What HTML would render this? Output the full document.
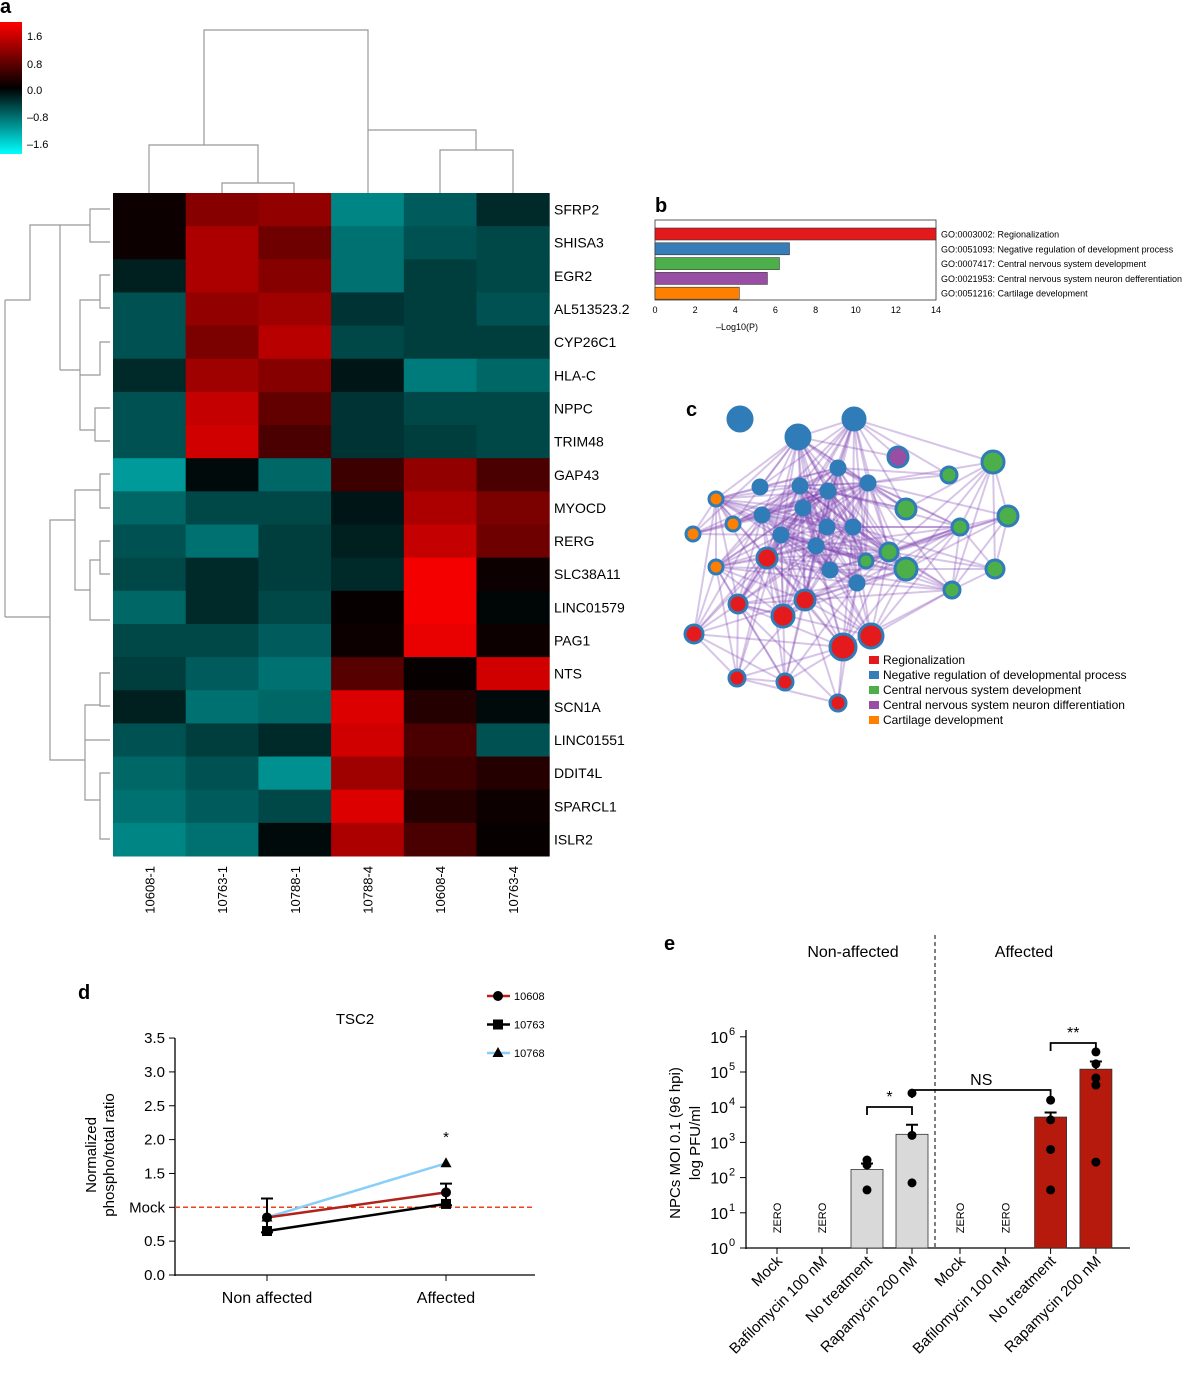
<!DOCTYPE html>
<html><head><meta charset="utf-8">
<style>
html,body{margin:0;padding:0;background:#fff;}
svg{display:block;font-family:"Liberation Sans",sans-serif;}
</style></head>
<body>
<svg id="fig" width="1200" height="1375" viewBox="0 0 1200 1375" xmlns="http://www.w3.org/2000/svg">
<defs>
<linearGradient id="cbar" x1="0" y1="0" x2="0" y2="1">
<stop offset="0" stop-color="#ff0000"/><stop offset="0.5" stop-color="#000"/><stop offset="1" stop-color="#00ffff"/>
</linearGradient>
</defs>
<g id="pa">
<text x="0" y="13" font-size="20" font-weight="bold">a</text>
<rect x="0" y="22" width="22" height="132" fill="url(#cbar)"/>
<g font-size="11">
<text x="27" y="40">1.6</text><text x="27" y="68">0.8</text><text x="27" y="94">0.0</text><text x="27" y="121">–0.8</text><text x="27" y="148">–1.6</text>
</g>
<g id="heat"></g>
<g id="coldendro" stroke="#999" fill="none" stroke-width="1.2">
<path d="M204 145V30H368V130"/><path d="M149 193V145H258V183"/><path d="M222 193V183H294V193"/><path d="M368 193V130H476V150"/><path d="M440 193V150H513V193"/>
</g>
<g id="rowdendro" stroke="#999" fill="none" stroke-width="1.2">
<path d="M5 300V617"/><path d="M5 300H30V225H60V370"/><path d="M60 225H90V209H110M90 209V242H110"/>
<path d="M60 370H80V300H100V275H110M100 300V308H110M80 370V430H95V408H110M95 430V441H110M80 370V375H100V342H110M100 375V375"/>
<path d="M5 617H50V520H75V490H100V474H110M100 490V508H110M75 520V590H90V560H100V541H110M100 560V574H110M90 590V620H110M50 617V760H85V705H100V673H110M100 705V706H110M85 760V800H100V773H110M100 800V839H110M85 760V740H110"/>
</g>
<g id="rowlabels" font-size="14"></g>
<g id="collabels" font-size="13"></g>
</g>

<g id="pb">
<text x="655" y="212" font-size="20" font-weight="bold">b</text>
<rect x="655" y="220" width="281" height="80" fill="none" stroke="#333" stroke-width="0.8"/>
<g id="bbars"></g>
<text x="737" y="330" font-size="9" text-anchor="middle">–Log10(P)</text>
</g>

<g id="pc">
<text x="686" y="416" font-size="20" font-weight="bold">c</text>
<g id="edges" stroke="#7b3fb0" stroke-width="2" stroke-opacity="0.3"></g>
<g id="nodes"></g>
<g id="clegend" font-size="12"></g>
</g>

<g id="pd">
<text x="78" y="999" font-size="20" font-weight="bold">d</text>
<text x="355" y="1024" font-size="15" text-anchor="middle">TSC2</text>
<g transform="translate(96,1155) rotate(-90)" font-size="15" text-anchor="middle"><text x="0" y="0">Normalized</text><text x="0" y="18">phospho/total ratio</text></g>
<g id="daxes"></g><g id="dseries"></g>
</g>

<g id="pe">
<text x="664" y="950" font-size="20" font-weight="bold">e</text>
<text x="853" y="957" font-size="16" text-anchor="middle">Non-affected</text>
<text x="1024" y="957" font-size="16" text-anchor="middle">Affected</text>
<g transform="translate(680,1143) rotate(-90)" font-size="15" text-anchor="middle"><text x="0" y="0">NPCs MOI 0.1 (96 hpi)</text><text x="0" y="20">log PFU/ml</text></g>
<g id="eaxes"></g><g id="eseries"></g>
</g>
</svg>
<script>
var NS="http://www.w3.org/2000/svg";
function mk(p,t,a,txt){var e=document.createElementNS(NS,t);for(var k in a)e.setAttribute(k,a[k]);if(txt!==undefined)e.textContent=txt;p.appendChild(e);return e;}

/* ---------- panel a data ---------- */
var heatGenes=["SFRP2","SHISA3","EGR2","AL513523.2","CYP26C1","HLA-C","NPPC","TRIM48","GAP43","MYOCD","RERG","SLC38A11","LINC01579","PAG1","NTS","SCN1A","LINC01551","DDIT4L","SPARCL1","ISLR2"];
var heatSamples=["10608-1","10763-1","10788-1","10788-4","10608-4","10763-4"];
var heatValues=[
[0.1,1.1,1.2,-1.3,-0.9,-0.4],[0.1,1.4,0.9,-1.1,-0.8,-0.7],[-0.3,1.4,1.1,-1.1,-0.6,-0.7],
[-0.8,1.2,1.3,-0.5,-0.6,-0.8],[-0.8,1.0,1.5,-0.7,-0.6,-0.6],[-0.4,1.3,1.1,-0.2,-1.2,-1.0],
[-0.8,1.6,0.8,-0.5,-0.7,-0.7],[-0.8,1.7,0.6,-0.5,-0.6,-0.7],[-1.5,-0.1,-1.0,0.5,1.2,0.6],
[-1.0,-0.7,-0.7,-0.2,1.4,1.0],[-0.8,-1.1,-0.6,-0.3,1.6,0.9],[-0.7,-0.4,-0.6,-0.4,2.0,0.1],
[-1.0,-0.4,-0.7,0.05,2.0,-0.05],[-0.7,-0.7,-0.9,0.1,1.9,0.1],[-0.6,-0.9,-1.1,0.7,0.05,1.7],
[-0.3,-1.1,-1.0,1.8,0.3,-0.1],[-0.8,-0.6,-0.4,1.7,0.6,-0.8],[-1.0,-0.8,-1.4,1.3,0.5,0.3],
[-1.1,-0.9,-0.7,1.8,0.3,0.1],[-1.3,-1.1,-0.1,1.4,0.6,0.05]];
var hx0=113,hy0=193,cw=72.7,rh=33.15;
function heatColor(v){var t=Math.min(1,Math.abs(v)/2);if(v>=0)return "rgb("+Math.round(245*t)+",0,0)";var c=Math.round(205*t);return "rgb(0,"+c+","+c+")";}
var heat=document.getElementById("heat");
heatValues.forEach(function(row,i){row.forEach(function(v,j){
 var r=mk(heat,"rect",{x:hx0+j*cw,y:hy0+i*rh,width:cw+0.5,height:rh+0.5,fill:heatColor(v)});
 
 
});});
var rl=document.getElementById("rowlabels");
heatGenes.forEach(function(g,i){var t=mk(rl,"text",{x:554,y:hy0+i*rh+rh/2+5},g);
 
 });
var cl=document.getElementById("collabels");
heatSamples.forEach(function(s,j){var x=hx0+j*cw+cw/2+5;var t=mk(cl,"text",{x:0,y:0,transform:"translate("+x+",866) rotate(-90)","text-anchor":"end"},s);
 
 });

/* ---------- panel b ---------- */
var goTerms=["GO:0003002: Regionalization","GO:0051093: Negative regulation of development process","GO:0007417: Central nervous system development","GO:0021953: Central nervous system neuron defferentiation","GO:0051216: Cartilage development"];
var goValues=[14,6.7,6.2,5.6,4.2];
var goColors=["#e31a1c","#377eb8","#4daf4a","#984ea3","#ff7f00"];
var bTicks=[0,2,4,6,8,10,12,14];
var bb=document.getElementById("bbars");
function bx(v){return 655+v*(281/14);}
goValues.forEach(function(v,i){var y=228+i*14.8;
 var r=mk(bb,"rect",{x:655,y:y,width:bx(v)-655,height:12,fill:goColors[i],stroke:"#333","stroke-width":0.6});
 
 
 var t=mk(bb,"text",{x:941,y:y+9.5,"font-size":9},goTerms[i]);
 
 });
bTicks.forEach(function(v){var t=mk(bb,"text",{x:bx(v),y:313,"font-size":9,"text-anchor":"middle"},v);
 
 });

/* ---------- panel c ---------- */
var netNodes=[[740,419,10,"b"],[798,437,10,"b"],[854,419,9,"b"],[898,457,8,"p"],[838,468,5,"b"],[868,483,5,"b"],[949,475,6,"g"],[993,462,9,"g"],[716,499,5,"o"],[760,487,5,"b"],[800,486,5,"b"],[828,491,5,"b"],[906,509,8,"g"],[1008,516,8,"g"],[960,527,6,"g"],[733,524,5,"o"],[762,515,5,"b"],[803,508,5,"b"],[827,527,5,"b"],[853,527,5,"b"],[781,535,5,"b"],[693,534,5,"o"],[816,546,5,"b"],[889,552,7,"g"],[866,561,5,"g"],[906,569,9,"g"],[952,590,6,"g"],[995,569,7,"g"],[767,558,8,"r"],[716,567,5,"o"],[830,570,5,"b"],[738,604,7,"r"],[805,600,8,"r"],[783,616,9,"r"],[857,583,5,"b"],[694,634,7,"r"],[871,636,10,"r"],[843,647,11,"r"],[737,678,6,"r"],[785,682,6,"r"],[838,703,6,"r"]];
var nodeCol={b:"#2f7cb8",p:"#984ea3",g:"#4daf4a",o:"#ff7f00",r:"#e41a1c"};
var eg=document.getElementById("edges"),ng=document.getElementById("nodes");
for(var i=0;i<netNodes.length;i++)for(var j=i+1;j<netNodes.length;j++){var a=netNodes[i],b=netNodes[j];var d=Math.hypot(a[0]-b[0],a[1]-b[1]);if(d<150&&((i*7+j*3)%3!==0)){var l=mk(eg,"line",{x1:a[0],y1:a[1],x2:b[0],y2:b[1]});
 
 }}
netNodes.forEach(function(n){var c=mk(ng,"circle",{cx:n[0],cy:n[1],r:n[2]+2,fill:nodeCol[n[3]],stroke:"#2f7cb8","stroke-width":3});
 
 });
var legTerms=["Regionalization","Negative regulation of developmental process","Central nervous system development","Central nervous system neuron differentiation","Cartilage development"];
var cg=document.getElementById("clegend");
legTerms.forEach(function(s,i){var y=660+i*15;mk(cg,"rect",{x:869,y:y-4,width:10,height:8,fill:goColors[i]});
 var t=mk(cg,"text",{x:883,y:y+4},s);
 
 });

/* ---------- panel d ---------- */
var dGroups=["Non affected","Affected"];
var dYTicks=[0,0.5,1,1.5,2,2.5,3,3.5];
var dNames=["10608","10763","10768"];
var d10608=[0.85,1.22];
var d10763=[0.65,1.05];
var d10768=[0.85,1.65];
var dErrHi=[1.13,1.35];
var dErrLo=[0.63,1.03];
var dCols=["#b2221a","#000","#87cefa"];
var dSeries=[d10608,d10763,d10768];
function dy(v){return 1275-v*67.7;}
function dx(i){return 267+i*179;}
var da=document.getElementById("daxes"),ds=document.getElementById("dseries");
mk(da,"line",{x1:175,y1:1038,x2:175,y2:1276,stroke:"#000","stroke-width":1.3});
mk(da,"line",{x1:175,y1:1275,x2:535,y2:1275,stroke:"#000","stroke-width":1.3});
dYTicks.forEach(function(v){mk(da,"line",{x1:169,y1:dy(v),x2:175,y2:dy(v),stroke:"#000"});
 var t=mk(da,"text",{x:165,y:dy(v)+5,"font-size":15,"text-anchor":"end"},v===1?"Mock":v.toFixed(1));
 
 });
dGroups.forEach(function(g,i){mk(da,"line",{x1:dx(i),y1:1275,x2:dx(i),y2:1281,stroke:"#000"});
 var t=mk(da,"text",{x:dx(i),y:1303,"font-size":16,"text-anchor":"middle"},g);
 
 });
var ml=mk(ds,"line",{x1:175,y1:dy(1),x2:535,y2:dy(1),stroke:"#f0401e","stroke-width":1.5,"stroke-dasharray":"5,3"});


dGroups.forEach(function(g,i){var p=mk(ds,"path",{d:"M"+(dx(i)-6)+" "+dy(dErrHi[i])+"H"+(dx(i)+6)+"M"+dx(i)+" "+dy(dErrHi[i])+"V"+dy(dErrLo[i])+"M"+(dx(i)-6)+" "+dy(dErrLo[i])+"H"+(dx(i)+6),stroke:"#000","stroke-width":2,fill:"none"});
 
 });
[2,0,1].forEach(function(k){var s=dSeries[k];
 var l=mk(ds,"line",{x1:dx(0),y1:dy(s[0]),x2:dx(1),y2:dy(s[1]),stroke:dCols[k],"stroke-width":2.5});
 
 
 s.forEach(function(v,i){var m;
  if(k===0)m=mk(ds,"circle",{cx:dx(i),cy:dy(v),r:5,fill:"#000"});
  else if(k===1)m=mk(ds,"rect",{x:dx(i)-5,y:dy(v)-5,width:10,height:10,fill:"#000"});
  else m=mk(ds,"path",{d:"M"+dx(i)+" "+(dy(v)-6)+"L"+(dx(i)+5.5)+" "+(dy(v)+4)+"L"+(dx(i)-5.5)+" "+(dy(v)+4)+"Z",fill:"#000"});
  
  });
});
mk(ds,"text",{x:dx(1),y:1142,"font-size":15,"text-anchor":"middle"},"*");
dNames.forEach(function(n,k){var y=996+k*28.5;mk(ds,"line",{x1:487,y1:y,x2:510,y2:y,stroke:dCols[k],"stroke-width":2.5});
 var m;if(k===0)m=mk(ds,"circle",{cx:498,cy:y,r:5});else if(k===1)m=mk(ds,"rect",{x:493,y:y-5,width:10,height:10});else m=mk(ds,"path",{d:"M498 "+(y-6)+"L503.5 "+(y+4)+"L492.5 "+(y+4)+"Z"});
 var t=mk(ds,"text",{x:514,y:y+4,"font-size":11},n);
 
 });

/* ---------- panel e ---------- */
var eCats=["Mock","Bafilomycin 100 nM","No treatment","Rapamycin 200 nM","Mock","Bafilomycin 100 nM","No treatment","Rapamycin 200 nM"];
var eMeans=[null,null,2.23,3.23,null,null,3.72,5.08];
var eErrTop=[null,null,2.4,3.5,null,null,3.85,5.3];
var ePoints=[[],[],[2.5,2.36,1.65],[4.4,3.2,1.85],[],[],[4.2,3.64,2.8,1.65],[5.57,5.23,4.83,4.63,2.44]];
var eYTicks=[0,1,2,3,4,5,6];
var eFill=["#d9d9d9","#d9d9d9","#d9d9d9","#d9d9d9","#b51a0c","#b51a0c","#b51a0c","#b51a0c"];
function ey(v){return 1248-v*35.2;}
function ex(i){return i<4?777+i*45:960+(i-4)*45.3;}
var ea=document.getElementById("eaxes"),es=document.getElementById("eseries");
mk(ea,"line",{x1:746,y1:1030,x2:746,y2:1249,stroke:"#000","stroke-width":1.3});
mk(ea,"line",{x1:746,y1:1248,x2:1130,y2:1248,stroke:"#000","stroke-width":1.3});
mk(ea,"line",{x1:935,y1:935,x2:935,y2:1250,stroke:"#555","stroke-width":1.5,"stroke-dasharray":"4,3"});
eYTicks.forEach(function(v){mk(ea,"line",{x1:740,y1:ey(v),x2:746,y2:ey(v),stroke:"#000"});
 var t=mk(ea,"text",{x:728,y:ey(v)+6,"font-size":16,"text-anchor":"end"},"10");
 
 
 mk(ea,"text",{x:729,y:ey(v)-2,"font-size":11},v);});
eCats.forEach(function(c,i){var x=ex(i);
 mk(ea,"line",{x1:x,y1:1248,x2:x,y2:1254,stroke:"#000"});
 var t=mk(ea,"text",{transform:"translate("+(x+6)+",1262) rotate(-45)","font-size":15,"text-anchor":"end"},c);
 
 
 if(eMeans[i]===null){var z=mk(es,"text",{transform:"translate("+(x+4)+",1218) rotate(-90)","font-size":11,"text-anchor":"middle"},"ZERO");
  
  return;}
 var r=mk(es,"rect",{x:x-16,y:ey(eMeans[i]),width:32,height:1248-ey(eMeans[i]),fill:eFill[i],stroke:"#333","stroke-width":0.8});
 
 
 var p=mk(es,"path",{d:"M"+x+" "+ey(eMeans[i])+"V"+ey(eErrTop[i])+"M"+(x-6)+" "+ey(eErrTop[i])+"H"+(x+6),stroke:"#000","stroke-width":2,fill:"none"});
 
 
 ePoints[i].forEach(function(v){var d=mk(es,"circle",{cx:x,cy:ey(v),r:4.5,fill:"#000"});
  
  });
});
function bracket(a,b,y,lab){var p=mk(es,"path",{d:"M"+ex(a)+" "+(y+8)+"V"+y+"H"+ex(b)+"V"+(y+8),stroke:"#000","stroke-width":1.8,fill:"none"});
 
 
 mk(es,"text",{x:(ex(a)+ex(b))/2,y:y-5,"font-size":16,"text-anchor":"middle"},lab);}
bracket(2,3,1107,"*");bracket(3,6,1090,"NS");bracket(6,7,1043,"**");
</script>
</body></html>
